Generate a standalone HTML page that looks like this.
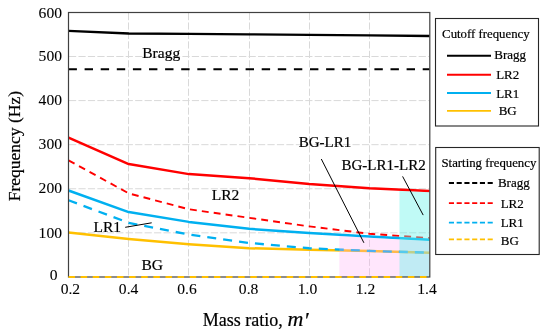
<!DOCTYPE html>
<html><head><meta charset="utf-8"><style>
html,body{margin:0;padding:0;background:#fff;}
svg{display:block;}
</style></head><body>
<svg width="550" height="335" viewBox="0 0 550 335">
<line x1="128.5" y1="13" x2="128.5" y2="276" stroke="#d9d9d9" stroke-width="1" stroke-dasharray="7.2,2.25"/>
<line x1="188.5" y1="13" x2="188.5" y2="276" stroke="#d9d9d9" stroke-width="1" stroke-dasharray="7.2,2.25"/>
<line x1="249.5" y1="13" x2="249.5" y2="276" stroke="#d9d9d9" stroke-width="1" stroke-dasharray="7.2,2.25"/>
<line x1="309.5" y1="13" x2="309.5" y2="276" stroke="#d9d9d9" stroke-width="1" stroke-dasharray="7.2,2.25"/>
<line x1="369.5" y1="13" x2="369.5" y2="276" stroke="#d9d9d9" stroke-width="1" stroke-dasharray="7.2,2.25"/>
<line x1="69" y1="232.82" x2="429" y2="232.82" stroke="#d9d9d9" stroke-width="1" stroke-dasharray="7.2,2.25"/>
<line x1="69" y1="188.74" x2="429" y2="188.74" stroke="#d9d9d9" stroke-width="1" stroke-dasharray="7.2,2.25"/>
<line x1="69" y1="144.66" x2="429" y2="144.66" stroke="#d9d9d9" stroke-width="1" stroke-dasharray="7.2,2.25"/>
<line x1="69" y1="100.58" x2="429" y2="100.58" stroke="#d9d9d9" stroke-width="1" stroke-dasharray="7.2,2.25"/>
<line x1="69" y1="56.50" x2="429" y2="56.50" stroke="#d9d9d9" stroke-width="1" stroke-dasharray="7.2,2.25"/>
<polyline points="68.50,30.93 128.68,33.49 188.86,33.80 249.04,34.37 309.22,34.90 369.40,35.43 429.58,36.00" fill="none" stroke="#000000" stroke-width="2.30" stroke-linejoin="round"/>
<polyline points="68.50,69.28 128.68,69.28 188.86,69.28 249.04,69.28 309.22,69.28 369.40,69.28 429.58,69.28" fill="none" stroke="#000000" stroke-width="2.1" stroke-dasharray="8.4,7.7"/>
<polyline points="68.50,137.61 128.68,164.06 188.86,174.11 249.04,178.16 309.22,184.11 369.40,188.30 429.58,190.94" fill="none" stroke="#ff0000" stroke-width="2.50" stroke-linejoin="round"/>
<polyline points="68.50,160.31 128.68,193.37 188.86,209.24 249.04,217.83 309.22,226.38 369.40,233.79 429.58,238.11" fill="none" stroke="#ff0000" stroke-width="1.9" stroke-dasharray="6.9,5.1"/>
<polyline points="68.50,232.51 128.68,238.99 188.86,244.19 249.04,248.25 309.22,249.70 369.40,250.89 429.58,252.66" fill="none" stroke="#ffc000" stroke-width="2.50" stroke-linejoin="round"/>
<polyline points="68.50,200.29 128.68,222.81 188.86,234.58 249.04,242.96 309.22,248.25 369.40,250.89 429.58,252.66" fill="none" stroke="#00b0f0" stroke-width="2.3" stroke-dasharray="9,7.02"/>
<polyline points="68.50,190.50 128.68,212.10 188.86,221.89 249.04,228.85 309.22,233.08 369.40,236.52 429.58,239.87" fill="none" stroke="#00b0f0" stroke-width="2.50" stroke-linejoin="round"/>
<polygon points="339.31,236.10 369.40,237.82 429.58,241.17 429.58,276.90 339.31,276.90" fill="rgb(255,172,245)" fill-opacity="0.3"/>
<polygon points="399.49,190.92 429.58,192.24 429.58,276.90 399.49,276.90" fill="rgb(97,242,232)" fill-opacity="0.4"/>
<rect x="68.5" y="12.5" width="361.3" height="264.5" fill="none" stroke="#404040" stroke-width="1.2"/>
<line x1="68.5" y1="277" x2="429.5" y2="277" stroke="#ffc000" stroke-width="1.9" stroke-dasharray="6.5,5.62"/>
<line x1="125.2" y1="227.3" x2="151.7" y2="222.8" stroke="#000" stroke-width="1"/>
<line x1="321.3" y1="159" x2="363.9" y2="242.8" stroke="#000" stroke-width="1"/>
<line x1="402.6" y1="176.4" x2="423.2" y2="215.1" stroke="#000" stroke-width="1"/>
<text x="62.0" y="12.5" font-family="Liberation Serif, serif" stroke="#000" stroke-width="0.08" font-size="15.6" text-anchor="end" dominant-baseline="central">600</text>
<text x="62.0" y="55.8" font-family="Liberation Serif, serif" stroke="#000" stroke-width="0.08" font-size="15.6" text-anchor="end" dominant-baseline="central">500</text>
<text x="62.0" y="99.8" font-family="Liberation Serif, serif" stroke="#000" stroke-width="0.08" font-size="15.6" text-anchor="end" dominant-baseline="central">400</text>
<text x="62.0" y="143.6" font-family="Liberation Serif, serif" stroke="#000" stroke-width="0.08" font-size="15.6" text-anchor="end" dominant-baseline="central">300</text>
<text x="62.0" y="187.7" font-family="Liberation Serif, serif" stroke="#000" stroke-width="0.08" font-size="15.6" text-anchor="end" dominant-baseline="central">200</text>
<text x="62.0" y="232.1" font-family="Liberation Serif, serif" stroke="#000" stroke-width="0.08" font-size="15.6" text-anchor="end" dominant-baseline="central">100</text>
<text x="53.6" y="274.5" font-family="Liberation Serif, serif" stroke="#000" stroke-width="0.08" font-size="15.6" text-anchor="middle" dominant-baseline="central">0</text>
<text x="70.4" y="294.1" font-family="Liberation Serif, serif" stroke="#000" stroke-width="0.08" font-size="15.6" text-anchor="middle">0.2</text>
<text x="128.6" y="294.1" font-family="Liberation Serif, serif" stroke="#000" stroke-width="0.08" font-size="15.6" text-anchor="middle">0.4</text>
<text x="187.0" y="294.1" font-family="Liberation Serif, serif" stroke="#000" stroke-width="0.08" font-size="15.6" text-anchor="middle">0.6</text>
<text x="248.6" y="294.1" font-family="Liberation Serif, serif" stroke="#000" stroke-width="0.08" font-size="15.6" text-anchor="middle">0.8</text>
<text x="307.5" y="294.1" font-family="Liberation Serif, serif" stroke="#000" stroke-width="0.08" font-size="15.6" text-anchor="middle">1.0</text>
<text x="365.5" y="294.1" font-family="Liberation Serif, serif" stroke="#000" stroke-width="0.08" font-size="15.6" text-anchor="middle">1.2</text>
<text x="427.0" y="294.1" font-family="Liberation Serif, serif" stroke="#000" stroke-width="0.08" font-size="15.6" text-anchor="middle">1.4</text>
<text x="202.7" y="325.5" font-family="Liberation Serif, serif" stroke="#000" stroke-width="0.2" font-size="18">Mass ratio,</text>
<text x="287.5" y="325.6" font-family="Liberation Serif, serif" stroke="#000" stroke-width="0.2" font-size="22" font-style="italic">m</text>
<text x="305.1" y="328" font-family="Liberation Serif, serif" stroke="#000" stroke-width="0.2" font-size="23">′</text>
<text transform="translate(19.8,146.1) rotate(-90)" font-family="Liberation Serif, serif" stroke="#000" stroke-width="0.2" font-size="17.5" text-anchor="middle">Frequency (Hz)</text>
<text x="161.2" y="58.2" font-family="Liberation Serif, serif" stroke="#000" stroke-width="0.2" font-size="15.5" text-anchor="middle">Bragg</text>
<text x="225.6" y="200.4" font-family="Liberation Serif, serif" stroke="#000" stroke-width="0.2" font-size="15.5" text-anchor="middle">LR2</text>
<text x="107.3" y="232.3" font-family="Liberation Serif, serif" stroke="#000" stroke-width="0.2" font-size="15.5" text-anchor="middle">LR1</text>
<text x="152.3" y="270.4" font-family="Liberation Serif, serif" stroke="#000" stroke-width="0.2" font-size="15.5" text-anchor="middle">BG</text>
<text x="325" y="147.1" font-family="Liberation Serif, serif" stroke="#000" stroke-width="0.2" font-size="15" text-anchor="middle">BG-LR1</text>
<text x="383.6" y="169.6" font-family="Liberation Serif, serif" stroke="#000" stroke-width="0.2" font-size="15" text-anchor="middle">BG-LR1-LR2</text>
<rect x="435.5" y="18.5" width="103" height="107.5" fill="#fff" stroke="#262626" stroke-width="1.1"/>
<text transform="translate(485.9,38.4) scale(0.97,1)" font-family="Liberation Serif, serif" stroke="#000" stroke-width="0.2" font-size="13.2" text-anchor="middle">Cutoff frequency</text>
<line x1="447" y1="55.8" x2="491" y2="55.8" stroke="#000000" stroke-width="1.9"/>
<text transform="translate(510.2,59.2) scale(0.97,1)" font-family="Liberation Serif, serif" stroke="#000" stroke-width="0.2" font-size="13.4" text-anchor="middle">Bragg</text>
<line x1="447" y1="74.8" x2="491" y2="74.8" stroke="#ff0000" stroke-width="1.9"/>
<text transform="translate(507.7,78.9) scale(0.97,1)" font-family="Liberation Serif, serif" stroke="#000" stroke-width="0.2" font-size="13.4" text-anchor="middle">LR2</text>
<line x1="447" y1="93.0" x2="491" y2="93.0" stroke="#00b0f0" stroke-width="1.9"/>
<text transform="translate(507.7,98.1) scale(0.97,1)" font-family="Liberation Serif, serif" stroke="#000" stroke-width="0.2" font-size="13.4" text-anchor="middle">LR1</text>
<line x1="447" y1="110.9" x2="491" y2="110.9" stroke="#ffc000" stroke-width="1.9"/>
<text transform="translate(507.7,114.8) scale(0.97,1)" font-family="Liberation Serif, serif" stroke="#000" stroke-width="0.2" font-size="13.4" text-anchor="middle">BG</text>
<rect x="435.7" y="147.5" width="103.5" height="107" fill="#fff" stroke="#262626" stroke-width="1.1"/>
<text transform="translate(488.9,167.1) scale(0.97,1)" font-family="Liberation Serif, serif" stroke="#000" stroke-width="0.2" font-size="13.2" text-anchor="middle">Starting frequency</text>
<line x1="448.9" y1="183.0" x2="492.8" y2="183.0" stroke="#000000" stroke-width="1.8" stroke-dasharray="5.1,2.65"/>
<text transform="translate(513.8,187.2) scale(0.97,1)" font-family="Liberation Serif, serif" stroke="#000" stroke-width="0.2" font-size="13.4" text-anchor="middle">Bragg</text>
<line x1="448.9" y1="203.1" x2="492.8" y2="203.1" stroke="#ff0000" stroke-width="1.8" stroke-dasharray="5.1,2.65"/>
<text transform="translate(512.2,207.7) scale(0.97,1)" font-family="Liberation Serif, serif" stroke="#000" stroke-width="0.2" font-size="13.4" text-anchor="middle">LR2</text>
<line x1="448.9" y1="222.7" x2="492.8" y2="222.7" stroke="#00b0f0" stroke-width="1.8" stroke-dasharray="5.1,2.65"/>
<text transform="translate(512.2,226.5) scale(0.97,1)" font-family="Liberation Serif, serif" stroke="#000" stroke-width="0.2" font-size="13.4" text-anchor="middle">LR1</text>
<line x1="448.9" y1="239.4" x2="492.8" y2="239.4" stroke="#ffc000" stroke-width="1.8" stroke-dasharray="5.1,2.65"/>
<text transform="translate(509.8,244.5) scale(0.97,1)" font-family="Liberation Serif, serif" stroke="#000" stroke-width="0.2" font-size="13.4" text-anchor="middle">BG</text>
</svg>
</body></html>
